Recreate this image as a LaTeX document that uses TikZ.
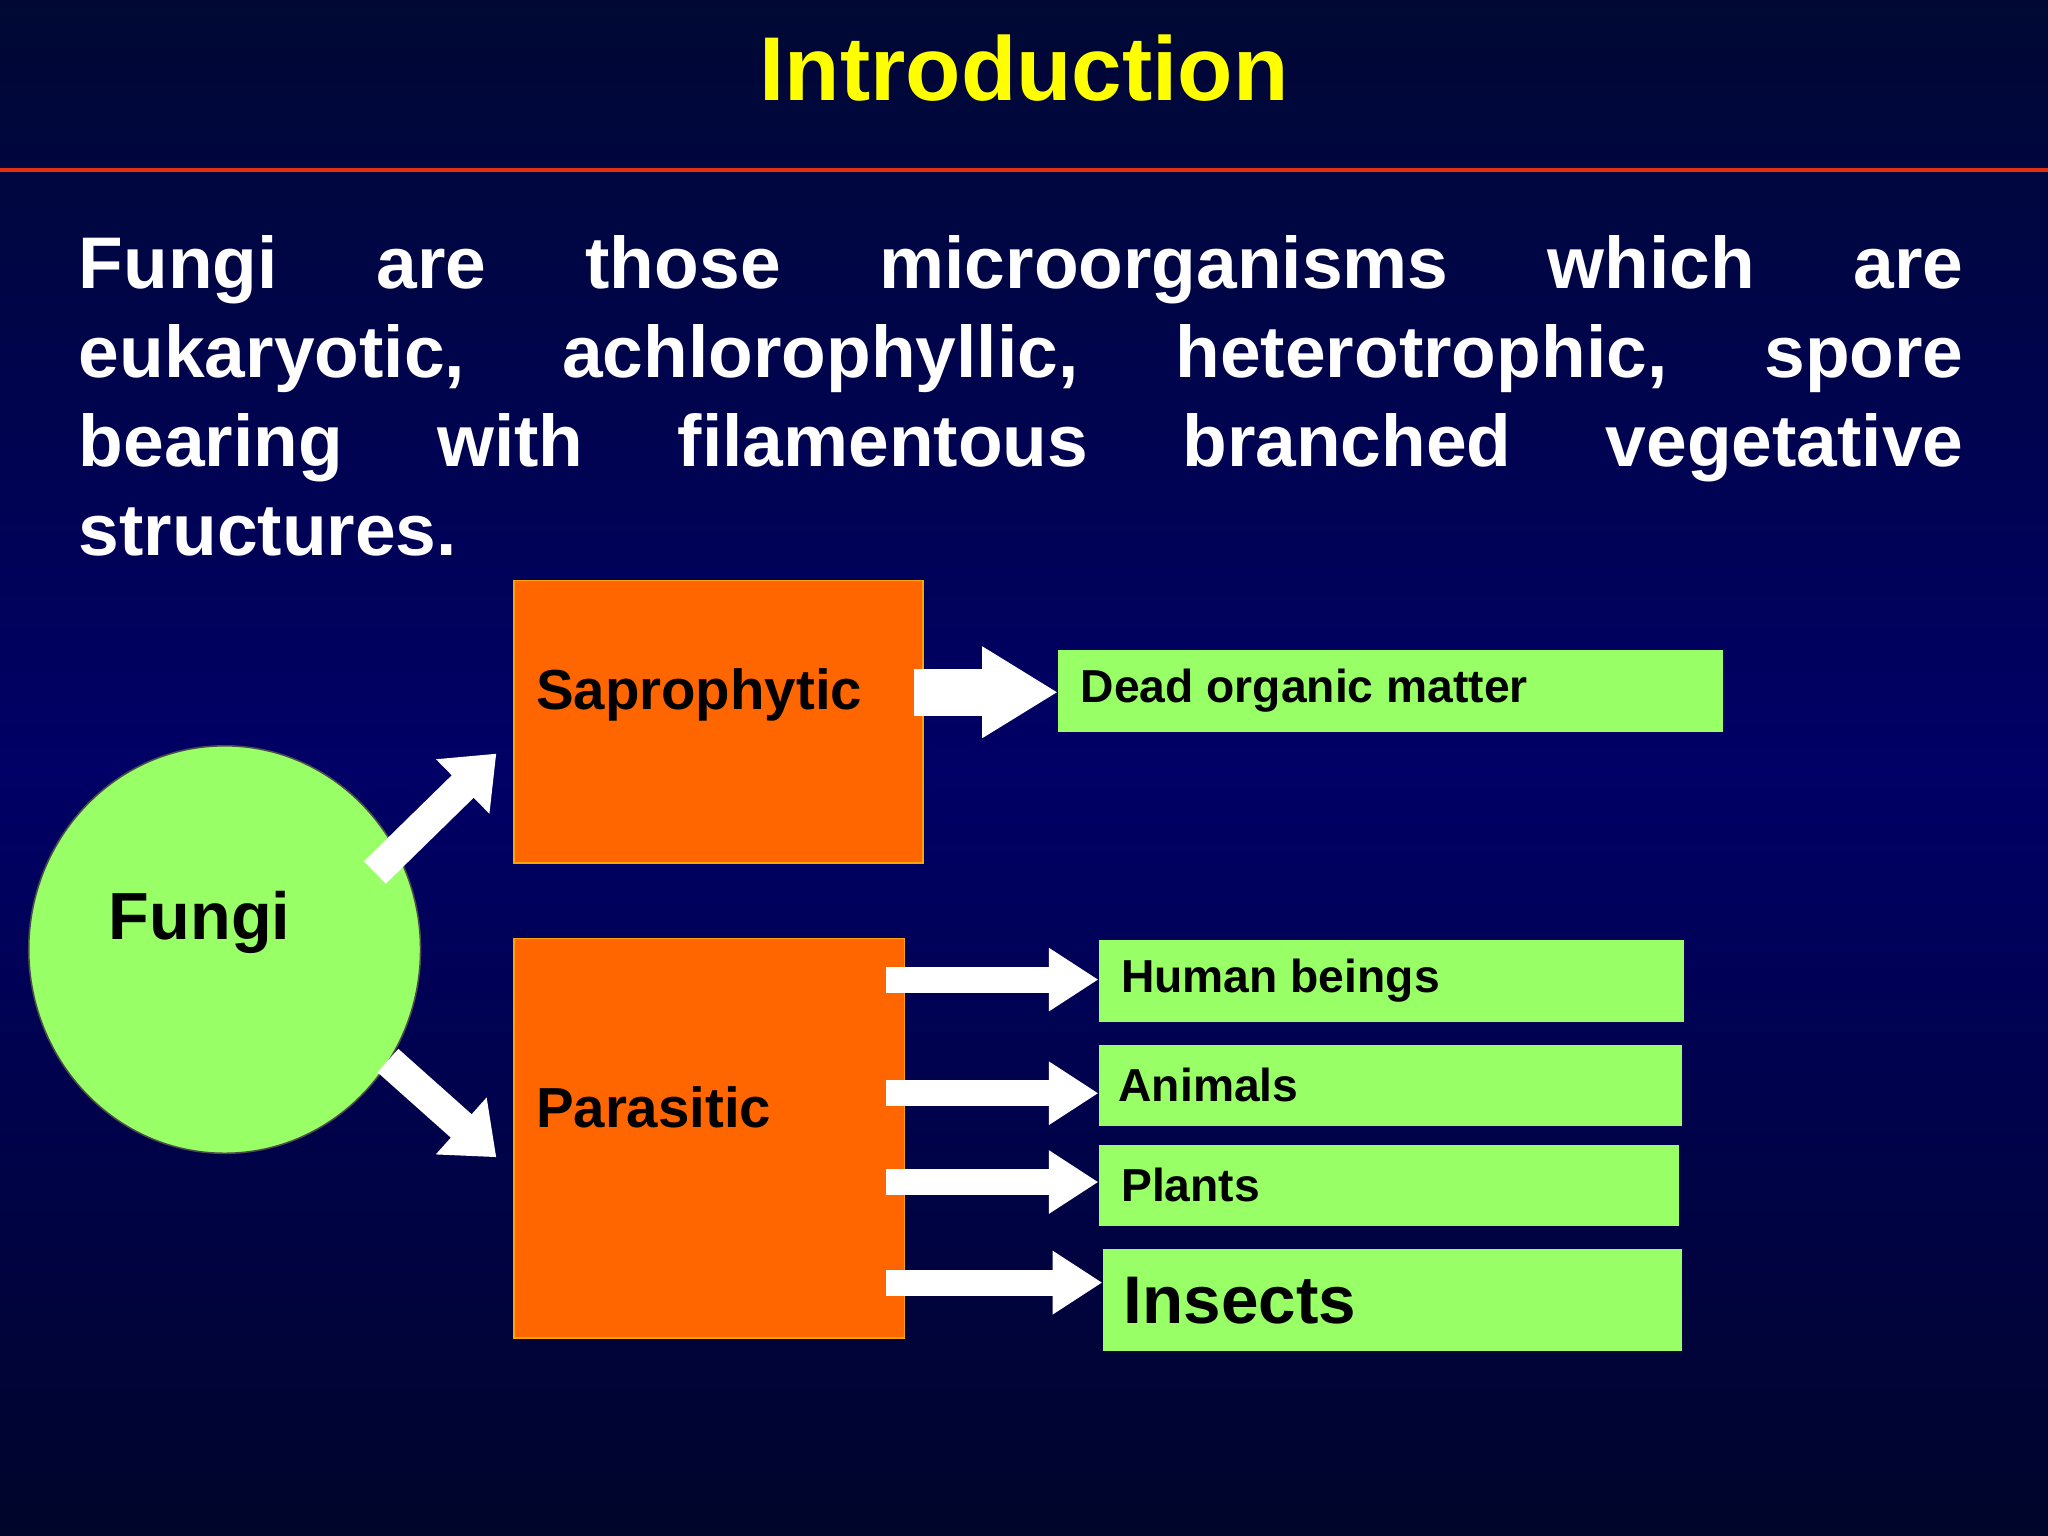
\documentclass[tikz,border=0pt]{standalone}
\usepackage{fontspec}
\setmainfont{Liberation Sans}
\usetikzlibrary{arrows.meta,shapes.geometric}
\definecolor{bgtop}{HTML}{000833}
\definecolor{bgmid}{HTML}{000066}
\definecolor{bgbot}{HTML}{00052A}
\definecolor{orng}{HTML}{FF6600}
\definecolor{lgreen}{HTML}{99FF66}
\definecolor{ttl}{HTML}{FFFF00}
\definecolor{rline}{HTML}{E03010}
\tikzset{
  obox/.style={draw=orng!60!yellow,line width=0.6pt,fill=orng,anchor=north west,inner sep=0pt},
  gbox/.style={fill=lgreen,anchor=north west,inner sep=0pt},
  lbl/.style={anchor=west,font=\bfseries,text=black,inner sep=0pt},
  bigarr/.style={white,line width=18pt,-{Triangle[length=29pt,width=33pt]}},
  smarr/.style={white,line width=10pt,-{Triangle[length=19pt,width=23pt]}},
  diarr/.style={white,line width=12pt,-{Triangle[length=18pt,width=28pt]}}
}
\begin{document}
\begin{tikzpicture}[x=0.5pt,y=-0.5pt]
\useasboundingbox (0,0) rectangle (1568,1176);
\shade[top color=bgtop,bottom color=bgmid] (0,0) rectangle (1568,590);
\shade[top color=bgmid,bottom color=bgbot] (0,588) rectangle (1568,1176);
\node[text=ttl,font=\bfseries\fontsize{34.7pt}{40pt}\selectfont] (title) at (784,52) {Introduction};
\draw[rline,line width=1.5pt] (0,130) -- (1568,130);
\node[anchor=north west,inner sep=0pt,text=white,text width=721.5pt,align=justify,
  font=\bfseries\fontsize{28pt}{34pt}\selectfont] (para) at (60,180)
  {Fungi are those microorganisms which are\linebreak eukaryotic, achlorophyllic, heterotrophic, spore\linebreak bearing with filamentous branched vegetative\linebreak structures.};
% boxes
\node[obox,minimum width=156.5pt,minimum height=108pt] (sap) at (393,444) {};
\node[lbl,font=\bfseries\fontsize{21.6pt}{26pt}\selectfont] at (410,532) {Saprophytic};
\node[obox,minimum width=149.5pt,minimum height=153pt] (par) at (393,718) {};
\node[lbl,font=\bfseries\fontsize{21.6pt}{26pt}\selectfont] at (410,848) {Parasitic};
\node[ellipse,draw=black!70,line width=0.6pt,fill=lgreen,minimum width=150pt,minimum height=156pt,inner sep=0pt] (fungi) at (172,727) {};
\node[lbl,font=\bfseries\fontsize{25.5pt}{30pt}\selectfont] at (83,706) {Fungi};
\node[gbox,minimum width=254.5pt,minimum height=31.5pt] (dead) at (810,497) {};
\node[lbl,font=\bfseries\fontsize{17.7pt}{21pt}\selectfont] at (827,529) {Dead organic matter};
\node[gbox,minimum width=224pt,minimum height=31.5pt] (hb) at (841,719) {};
\node[lbl,font=\bfseries\fontsize{17.7pt}{21pt}\selectfont] at (858,751) {Human beings};
\node[gbox,minimum width=223pt,minimum height=31pt] (an) at (841,800) {};
\node[lbl,font=\bfseries\fontsize{17.7pt}{21pt}\selectfont] at (856,831) {Animals};
\node[gbox,minimum width=222pt,minimum height=31pt] (pl) at (841,876) {};
\node[lbl,font=\bfseries\fontsize{17.7pt}{21pt}\selectfont] at (858,907) {Plants};
\node[gbox,minimum width=221.5pt,minimum height=39pt] (ins) at (844,956) {};
\node[lbl,font=\bfseries\fontsize{25.8pt}{30pt}\selectfont] at (860,996) {Insects};
% arrows
\coordinate (a0) at (700,530);
\draw[bigarr] (a0) -- (dead.west |- a0);
\draw[smarr] (678,750) -- (hb.west |- 0,750);
\draw[smarr] (678,837) -- (an.west |- 0,837);
\draw[smarr] (678,905) -- (pl.west |- 0,905);
\draw[smarr] (678,982) -- (ins.west |- 0,982);
\coordinate (d1) at (287,668);
\coordinate (d2) at (380,577);
\coordinate (d3) at (297,812);
\coordinate (d4) at (380,886);
\draw[diarr] (d1) -- (d2);
\draw[diarr] (d3) -- (d4);
\end{tikzpicture}
\end{document}
